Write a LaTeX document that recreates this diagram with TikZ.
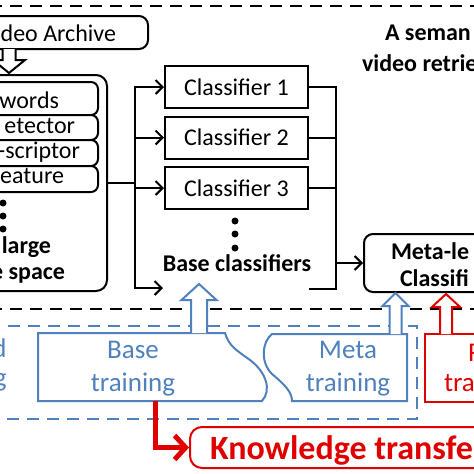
\documentclass[tikz,border=0pt]{standalone}
\usepackage{fontspec}
\setmainfont{Carlito}
\usetikzlibrary{arrows.meta}
\definecolor{trainblue}{RGB}{79,129,189}
\definecolor{transred}{RGB}{225,0,0}
\newcommand{\hollowup}[7]{%
  \draw[#1,line width=2pt,fill=white] ({#2-#6},#3) -- ({#2-#6},#4) -- ({#2-#7},#4) -- (#2,#5) -- ({#2+#7},#4) -- ({#2+#6},#4) -- ({#2+#6},#3);}

\begin{document}
\begin{tikzpicture}[x=1pt,y=-1pt,line width=2pt,
  font=\fontsize{24}{28}\selectfont,
  rbox/.style={draw,rounded corners=9pt,inner sep=0pt},
  tab/.style={draw,fill=white,rounded corners=7pt,minimum width=158pt,inner sep=0pt},
  clfbox/.style={draw,rectangle,minimum width=143pt,minimum height=42pt,inner sep=0pt},
  txt/.style={inner sep=0pt},
  boldtxt/.style={inner sep=0pt,font=\fontsize{24}{28}\selectfont\bfseries},
  bigtxt/.style={inner sep=0pt,font=\fontsize{27}{33}\selectfont},
  flow/.style={-{Straight Barb[length=7pt,width=14pt]}},
  sepline/.style={dash pattern=on 12pt off 8pt}]
\useasboundingbox (0,0) rectangle (474,474);
\clip (0,0) rectangle (474,474);
%Separators
\draw [sepline] (-10,6) -- (480,6);
\draw [sepline] (-10,309) -- (480,309);
\draw [trainblue,line width=1.6pt,sepline] (-20,326) rectangle (417,419);
%Boxes
\node at (44,32.5) [rbox,minimum width=208pt,minimum height=33pt] (Archive) {};
\node at (23.5,183) [rbox,rounded corners=11pt,minimum width=167pt,minimum height=216pt] (Space) {};
\node at (19,98.5) [tab,minimum height=33pt] (Words) {};
\node at (19,127.5) [tab,minimum height=25pt] (Detector) {};
\node at (19,153) [tab,minimum height=26pt] (Descriptor) {};
\node at (19,179) [tab,minimum height=26pt] (Feature) {};
\foreach \i/\y in {1/87,2/137.5,3/188}
  \node at (236.5,\y) [clfbox] (Clf\i) {Classifier \i};
\node at (444,263) [rbox,minimum width=160pt,minimum height=58pt] (MetaClf) {};
\node at (480,368) [draw=transred,minimum width=110pt,minimum height=68pt,inner sep=0pt] (RTrain) {};
\node at (340,447.5) [rbox,draw=transred,rounded corners=12pt,minimum width=300pt,minimum height=41pt] (Transfer) {};
%Training pieces
\draw [trainblue] (38,333) -- (225,333) .. controls (229,346) and (236,350) .. (250,360)
  .. controls (266,372) and (272,390) .. (262,401) -- (38,401) -- cycle;
\draw [trainblue] (272,334) .. controls (262,342) and (260,362) .. (272,374)
  .. controls (285,385) and (292,392) .. (292,401) -- (407,401) -- (407,334) -- cycle;
%Node Labels
\node [txt,anchor=east] at (117,33) {deo Archive};
\node [txt,anchor=east] at (60,100) {words};
\node [txt,anchor=east] at (76,126) {etector};
\node [txt,anchor=east] at (81,152) {-scriptor};
\node [txt,anchor=east] at (65,176) {eature};
\node [boldtxt,anchor=east] at (52,247) {large};
\node [boldtxt,anchor=east] at (66,275) {e space};
\node [boldtxt] (BaseClf) at (237,263) {Base classifiers};
\node [boldtxt,anchor=west] at (384,33) {A seman};
\node [boldtxt,anchor=west] at (361,63) {video retrie};
\node [boldtxt,anchor=west] at (390,251) {Meta-le};
\node [boldtxt,anchor=west] at (399,278) {Classifi};
\node [bigtxt,trainblue,align=center] at (133,368.5) {Base\\training};
\node [bigtxt,trainblue,align=center] at (348,368.5) {Meta\\training};
\node [bigtxt,trainblue,anchor=east] at (7.5,348) {d};
\node [bigtxt,trainblue,anchor=east] at (7.5,382) {g};
\node [bigtxt,transred,anchor=west] at (467,353) {R};
\node [bigtxt,transred,anchor=west] at (443,383) {tra};
\node [txt,transred,anchor=west,font=\fontsize{34}{38}\selectfont\bfseries] at (209,450) {Knowledge transfe};
%Dots
\foreach \y in {203,216,229} \fill (3,\y) circle (3.5);
\foreach \y in {221,234,248} \fill (235,\y) circle (3.5);
%Connections
\coordinate (Split) at (135,183);
\coordinate (BaseIn) at (163,288);
\coordinate (BaseOut) at (309,289);
\coordinate (Merge) at (336,263);
\coordinate (BaseBottom) at (155,401);
\draw (Space.east |- Split) -- (Split);
\foreach \i in {1,2,3} \draw [flow] (Split) |- (Clf\i.west);
\draw [flow] (Split) |- (BaseIn);
\foreach \i in {1,2,3} \draw (Clf\i.east) -| (Merge);
\draw (BaseOut) -| (Merge);
\draw [flow] (Merge) -- (MetaClf.west);
\draw [transred,line width=5pt,-{Straight Barb[length=11pt,width=24pt]}] (BaseBottom) |- (Transfer.west);
%Hollow arrows
\hollowup{black}{9}{49}{60}{73}{6.5}{16}
\hollowup{trainblue}{199}{333}{300}{284}{8}{17.5}
\hollowup{trainblue}{395.5}{334}{306}{293}{6}{13}
\hollowup{transred}{446}{334}{307}{294}{6}{14}
\end{tikzpicture}
\end{document}
